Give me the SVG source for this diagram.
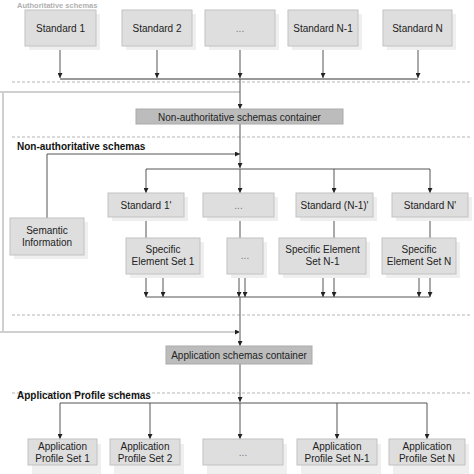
<svg xmlns="http://www.w3.org/2000/svg" width="474" height="474" viewBox="0 0 474 474">
<style>
.box{fill:#dedede;stroke:#c2c2c2;stroke-width:1}
.sh{fill:#efefef}
.cont{fill:#bcbcbc;stroke:#ababab;stroke-width:1}
.t{font-family:"Liberation Sans",Arial,sans-serif;font-size:10px;fill:#222;text-anchor:middle}
.dots{fill:#777}
.h{font-family:"Liberation Sans",Arial,sans-serif;font-size:10px;font-weight:bold;fill:#111}
.c{stroke:#555;stroke-width:1;fill:none}
.d{stroke:#b5b5b5;stroke-width:1;stroke-dasharray:3,2;fill:none}
.f{stroke:#cfcfcf;stroke-width:2;fill:none}
</style>
<defs>
<marker id="a" viewBox="0 0 8 8" refX="8" refY="4" markerWidth="5" markerHeight="5" orient="auto" markerUnits="userSpaceOnUse">
<path d="M0,0 L8,4 L0,8 z" fill="#222"/>
</marker>
</defs>
<rect width="474" height="474" fill="#ffffff"/>
<text class="h" x="17" y="7.5" style="fill:#b0b0b0;font-size:7.5px">Authoritative schemas</text>

<g id="frames">
<path class="f" d="M0,92 H240 M3,92 V332 M0,332 H234"/>
<line class="d" x1="12" y1="82" x2="470" y2="82"/>
<line class="d" x1="12" y1="137" x2="470" y2="137"/>
<line class="d" x1="12" y1="315" x2="470" y2="315"/>
<line class="d" x1="12" y1="393" x2="470" y2="393"/>
</g>

<g id="connectors">
<path class="c" d="M60,46 V78" marker-end="url(#a)"/>
<path class="c" d="M157,46 V78" marker-end="url(#a)"/>
<path class="c" d="M240,46 V78" marker-end="url(#a)"/>
<path class="c" d="M323,46 V78" marker-end="url(#a)"/>
<path class="c" d="M418,46 V78" marker-end="url(#a)"/>
<path d="M60,79 H418" stroke="#777" stroke-width="1.6" fill="none"/>
<path class="c" d="M240,79 V109" stroke="#999" marker-end="url(#a)"/>
<path class="c" d="M240,124 V168" stroke="#999" marker-end="url(#a)"/>
<path class="c" d="M47,218 V154 H240" stroke="#999" marker-end="url(#a)"/>
<path class="c" d="M146,169 H430" stroke="#888"/>
<path class="c" d="M146,169 V193" marker-end="url(#a)"/>
<path class="c" d="M240,169 V193" marker-end="url(#a)"/>
<path class="c" d="M334,169 V193" marker-end="url(#a)"/>
<path class="c" d="M430,169 V193" marker-end="url(#a)"/>
<path class="c" d="M146,217 V238 M240,217 V238 M334,217 V238 M430,217 V238" stroke="#888"/>
<path class="c" d="M146,274 V297" marker-end="url(#a)"/>
<path class="c" d="M163,274 V297" marker-end="url(#a)"/>
<path class="c" d="M239,274 V297" marker-end="url(#a)"/>
<path class="c" d="M245,274 V297" marker-end="url(#a)"/>
<path class="c" d="M323,274 V297" marker-end="url(#a)"/>
<path class="c" d="M334,274 V297" marker-end="url(#a)"/>
<path class="c" d="M419,274 V297" marker-end="url(#a)"/>
<path class="c" d="M430,274 V297" marker-end="url(#a)"/>
<path class="c" d="M146,297 H430" stroke="#999"/>
<path class="c" d="M240,297 V346" marker-end="url(#a)"/>
<path d="M200,332 H240" stroke="#cfcfcf" stroke-width="2" fill="none" marker-end="url(#a)"/>
<path class="c" d="M240,364 V402" stroke="#999" marker-end="url(#a)"/>
<path class="c" d="M60,403 H427" stroke="#999"/>
<path class="c" d="M60,403 V439" stroke="#888" marker-end="url(#a)"/>
<path class="c" d="M150,403 V439" stroke="#888" marker-end="url(#a)"/>
<path class="c" d="M240,403 V439" stroke="#888" marker-end="url(#a)"/>
<path class="c" d="M337,403 V439" stroke="#888" marker-end="url(#a)"/>
<path class="c" d="M427,403 V439" stroke="#888" marker-end="url(#a)"/>
</g>

<g id="std1"><rect class="sh" x="29" y="14" width="71" height="36"/><rect class="box" x="25" y="10" width="71" height="36"/><text class="t" x="60.5" y="32">Standard 1</text></g>
<g id="std2"><rect class="sh" x="126" y="14" width="70" height="36"/><rect class="box" x="122" y="10" width="70" height="36"/><text class="t" x="157" y="32">Standard 2</text></g>
<g id="stdDots"><rect class="sh" x="209" y="14" width="70" height="36"/><rect class="box" x="205" y="10" width="70" height="36"/><text class="t dots" x="240" y="32">...</text></g>
<g id="stdN1"><rect class="sh" x="292" y="14" width="70" height="36"/><rect class="box" x="288" y="10" width="70" height="36"/><text class="t" x="323" y="32">Standard N-1</text></g>
<g id="stdN"><rect class="sh" x="387" y="14" width="69" height="36"/><rect class="box" x="383" y="10" width="69" height="36"/><text class="t" x="417.5" y="32">Standard N</text></g>

<g id="naContainer"><rect class="cont" x="136" y="109" width="207" height="15"/><text class="t" x="239.5" y="120.5">Non-authoritative schemas container</text></g>
<text class="h" x="17" y="150">Non-authoritative schemas</text>

<g id="semantic"><rect class="sh" x="14" y="222" width="74" height="37"/><rect class="box" x="10" y="218" width="74" height="37"/><text class="t" x="47" y="234">Semantic</text><text class="t" x="47" y="246">Information</text></g>

<g id="std1p"><rect class="sh" x="112" y="197" width="76" height="24"/><rect class="box" x="108" y="193" width="76" height="24"/><text class="t" x="146" y="209">Standard 1'</text></g>
<g id="stdDotsP"><rect class="sh" x="207" y="197" width="71" height="24"/><rect class="box" x="203" y="193" width="71" height="24"/><text class="t dots" x="238.5" y="209">...</text></g>
<g id="stdN1p"><rect class="sh" x="300" y="197" width="77" height="24"/><rect class="box" x="296" y="193" width="77" height="24"/><text class="t" x="334.5" y="209">Standard (N-1)'</text></g>
<g id="stdNp"><rect class="sh" x="396" y="197" width="76" height="24"/><rect class="box" x="392" y="193" width="76" height="24"/><text class="t" x="430" y="209">Standard N'</text></g>

<g id="ses1"><rect class="sh" x="130" y="242" width="74" height="36"/><rect class="box" x="126" y="238" width="74" height="36"/><text class="t" x="163" y="253">Specific</text><text class="t" x="163" y="265">Element Set 1</text></g>
<g id="sesDots"><rect class="sh" x="231" y="242" width="36" height="36"/><rect class="box" x="227" y="238" width="36" height="36"/><text class="t dots" x="245" y="259">...</text></g>
<g id="sesN1"><rect class="sh" x="283" y="242" width="87" height="36"/><rect class="box" x="279" y="238" width="87" height="36"/><text class="t" x="322.5" y="253">Specific Element</text><text class="t" x="322.5" y="265">Set N-1</text></g>
<g id="sesN"><rect class="sh" x="386" y="242" width="74" height="36"/><rect class="box" x="382" y="238" width="74" height="36"/><text class="t" x="419" y="253">Specific</text><text class="t" x="419" y="265">Element Set N</text></g>

<g id="appContainer"><rect class="cont" x="166" y="346" width="146" height="18"/><text class="t" x="239" y="358.5">Application schemas container</text></g>
<text class="h" x="17" y="399">Application Profile schemas</text>

<g id="aps1"><rect class="sh" x="32" y="444" width="69" height="30"/><rect class="box" x="28" y="439" width="69" height="26"/><text class="t" x="62.5" y="450">Application</text><text class="t" x="62.5" y="462">Profile Set 1</text></g>
<g id="aps2"><rect class="sh" x="114" y="444" width="70" height="30"/><rect class="box" x="110" y="439" width="70" height="26"/><text class="t" x="145" y="450">Application</text><text class="t" x="145" y="462">Profile Set 2</text></g>
<g id="apsDots"><rect class="sh" x="207" y="444" width="80" height="30"/><rect class="box" x="203" y="439" width="80" height="26"/><text class="t dots" x="243" y="456">...</text></g>
<g id="apsN1"><rect class="sh" x="301" y="444" width="80" height="30"/><rect class="box" x="297" y="439" width="80" height="26"/><text class="t" x="337" y="450">Application</text><text class="t" x="337" y="462">Profile Set N-1</text></g>
<g id="apsN"><rect class="sh" x="393" y="444" width="76" height="30"/><rect class="box" x="389" y="439" width="76" height="26"/><text class="t" x="427" y="450">Application</text><text class="t" x="427" y="462">Profile Set N</text></g>
</svg>
